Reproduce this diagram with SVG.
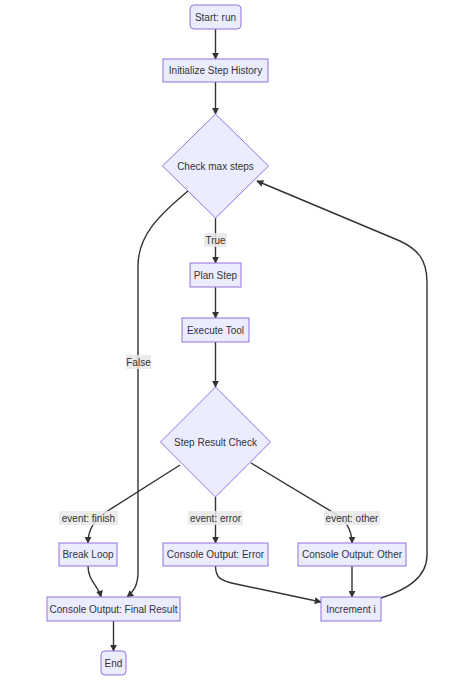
<svg xmlns="http://www.w3.org/2000/svg" width="474" height="680" viewBox="0 0 474 680">
<style>
.n{fill:#ECECFF;stroke:#9370DB;stroke-width:1}
.t{font-family:"Liberation Sans",Arial,sans-serif;font-size:10px;fill:#333;text-anchor:middle;dominant-baseline:central}
.e{fill:none;stroke:#333;stroke-width:1.4}
.lb{fill:#e8e8e8;opacity:0.85}
</style>
<defs>
<marker id="ah" viewBox="0 0 10 10" refX="9" refY="5" markerWidth="7" markerHeight="7" markerUnits="userSpaceOnUse" orient="auto">
<path d="M0,0 L10,5 L0,10 z" fill="#333"/>
</marker>
</defs>
<rect width="474" height="680" fill="#fff"/>
<g id="edges">
<path class="e" d="M215.5,29 L215.5,59" marker-end="url(#ah)"/>
<path class="e" d="M215.5,82 L215.5,114" marker-end="url(#ah)"/>
<path class="e" d="M215.5,218 L215.5,263" marker-end="url(#ah)"/>
<path class="e" d="M215.5,287 L215.5,318" marker-end="url(#ah)"/>
<path class="e" d="M215.5,342 L215.5,387" marker-end="url(#ah)"/>
<path class="e" d="M188,191 C158,216 138,236 138,266 L138,572 C138,586 133,592 127,597" marker-end="url(#ah)"/>
<path class="e" d="M381,598 C406,590 427,578 427,555 L427,282 C427,259 417,249 400,241 L257,181" marker-end="url(#ah)"/>
<path class="e" d="M180,465 L106,512 Q88,524 88,543" marker-end="url(#ah)"/>
<path class="e" d="M215.5,497 L215.5,543" marker-end="url(#ah)"/>
<path class="e" d="M251,463 L334,513 Q352,524 352,543" marker-end="url(#ah)"/>
<path class="e" d="M88,566 C88,581 98,585 101,597" marker-end="url(#ah)"/>
<path class="e" d="M215.5,566 C215.5,578 221,581 236,584 L321,602" marker-end="url(#ah)"/>
<path class="e" d="M352,566 L352,597" marker-end="url(#ah)"/>
<path class="e" d="M113.5,621 L113.5,651" marker-end="url(#ah)"/>
<g id="edge-labels">
<rect class="lb" x="204" y="233" width="23" height="14"/>
<text class="t" x="215.5" y="240">True</text>
<rect class="lb" x="126" y="355" width="25" height="14"/>
<text class="t" x="138.5" y="362">False</text>
<rect class="lb" x="59" y="511" width="59" height="14"/>
<text class="t" x="88.5" y="518">event: finish</text>
<rect class="lb" x="188" y="511" width="55" height="14"/>
<text class="t" x="215.5" y="518">event: error</text>
<rect class="lb" x="324" y="511" width="56" height="14"/>
<text class="t" x="352" y="518">event: other</text>
</g>
</g>
<g id="start"><rect class="n" x="190" y="5" width="51" height="24" rx="4"/><text class="t" x="215.5" y="17">Start: run</text></g>
<g id="init"><rect class="n" x="163" y="59" width="105" height="23"/><text class="t" x="215.5" y="70.5">Initialize Step History</text></g>
<g id="check"><polygon class="n" points="215.5,114 268.5,166 215.5,218 162.5,166"/><text class="t" x="215.5" y="166">Check max steps</text></g>
<g id="plan"><rect class="n" x="190" y="263" width="51" height="24"/><text class="t" x="215.5" y="275">Plan Step</text></g>
<g id="exec"><rect class="n" x="182" y="318" width="67" height="24"/><text class="t" x="215.5" y="330">Execute Tool</text></g>
<g id="stepcheck"><polygon class="n" points="215.5,387 270.5,442 215.5,497 160.5,442"/><text class="t" x="215.5" y="442">Step Result Check</text></g>
<g id="break"><rect class="n" x="59" y="543" width="58" height="23"/><text class="t" x="88" y="554.5">Break Loop</text></g>
<g id="error"><rect class="n" x="163" y="543" width="105" height="23"/><text class="t" x="215.5" y="554.5">Console Output: Error</text></g>
<g id="other"><rect class="n" x="298" y="543" width="108" height="23"/><text class="t" x="352" y="554.5">Console Output: Other</text></g>
<g id="final"><rect class="n" x="47" y="597" width="133" height="24"/><text class="t" x="113.5" y="609">Console Output: Final Result</text></g>
<g id="incr"><rect class="n" x="321" y="597" width="60" height="24"/><text class="t" x="351" y="609">Increment i</text></g>
<g id="end"><rect class="n" x="101" y="651" width="25" height="24" rx="4"/><text class="t" x="113.5" y="663">End</text></g>
</svg>
